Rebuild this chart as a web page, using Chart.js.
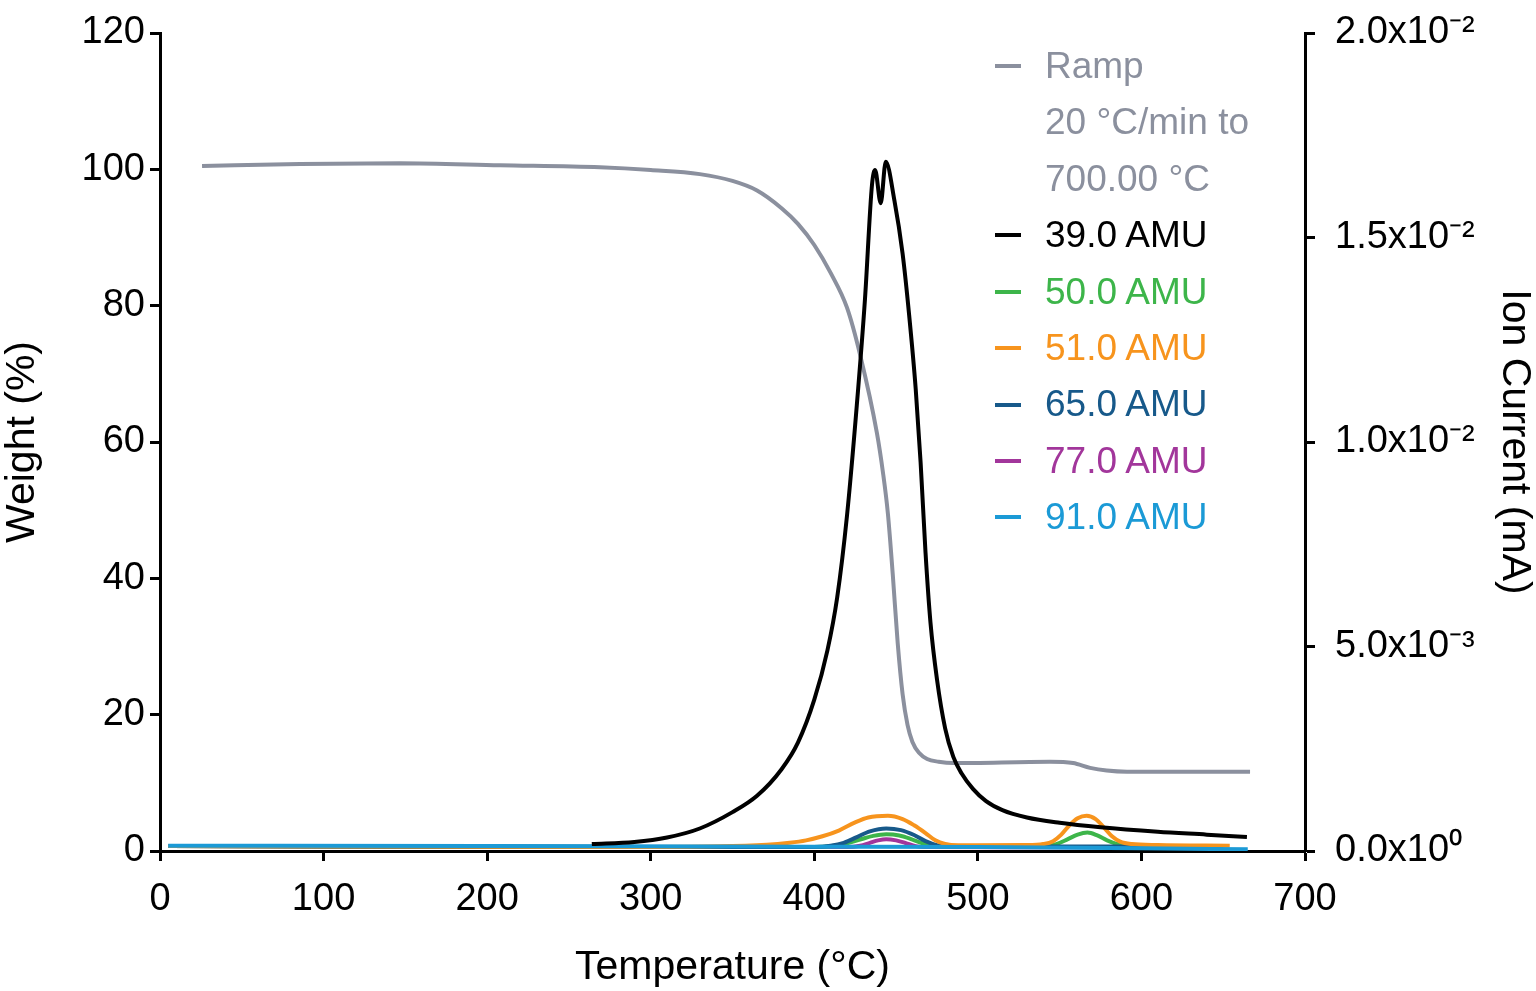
<!DOCTYPE html>
<html>
<head>
<meta charset="utf-8">
<script src="https://cdn.jsdelivr.net/npm/chart.js@4/dist/chart.umd.min.js"></script>
<style>
  html, body { margin: 0; padding: 0; background: #fff; }
  #wrap { position: relative; width: 1536px; height: 991px; }
  #legend { position: absolute; left: 995px; top: 38px; font-family: 'Liberation Sans', sans-serif; font-size: 37px; line-height: 56.4px; white-space: nowrap; }
  #legend .row { height: 56.4px; }
  #legend .sw { display: inline-block; width: 26px; height: 4px; vertical-align: middle; margin-right: 24px; position: relative; top: -2px; }
  #legend .cont { padding-left: 50px; }
</style>
</head>
<body>
<div id="wrap">
  <canvas id="c"></canvas>
  <div id="legend"></div>
</div>
<script>
// ---- Data ----
// Ramp: weight (%) vs temperature (°C), left axis
const rampT = [25.7, 85.6, 146.7, 207.9, 269, 300, 330, 350, 365, 380, 390, 400, 410, 420, 428, 438.3, 442, 445, 448, 451, 454, 457, 460, 464, 469, 476, 485, 544.1, 558.2, 568.6, 578.8, 591.2, 666.4];
const rampW = [100.5, 100.8, 100.9, 100.6, 100.3, 99.9, 99.3, 98.3, 96.9, 94.3, 92.0, 88.9, 84.8, 79.7, 72.8, 61.3, 55.5, 49.5, 40.5, 30.5, 23.0, 18.5, 16.0, 14.4, 13.5, 13.1, 12.9, 13.1, 12.9, 12.2, 11.8, 11.63, 11.63];

// Ion current (mA), right axis
const amu39T = [264, 290, 310, 330, 350, 365, 380, 390, 400, 408, 414, 420, 426, 431, 435.3, 437.2, 440.6, 443.7, 449, 454, 458, 462, 465, 468, 471, 475, 480, 485, 490, 497, 505, 515, 530, 550, 575, 610, 640, 664.5];
const amu39V = [0.00017, 0.00022, 0.00033, 0.00055, 0.00095, 0.00135, 0.0020, 0.00265, 0.0037, 0.0049, 0.0062, 0.0082, 0.0109, 0.0135, 0.0163, 0.01665, 0.01584, 0.01685, 0.0159, 0.0146, 0.0131, 0.0113, 0.0095, 0.0073, 0.0056, 0.0042, 0.0030, 0.0023, 0.0019, 0.00152, 0.00122, 0.0010, 0.00082, 0.00069, 0.00058, 0.00047, 0.00040, 0.00034];

const amu50T = [5, 300, 400, 412, 420, 428, 436, 444, 452, 460, 467, 474, 480, 540, 548, 555, 561, 567, 573, 579, 585, 592, 640];
const amu50V = [0.00012, 0.00010, 0.00010, 0.00013, 0.00019, 0.00028, 0.00037, 0.00041, 0.00038, 0.00028, 0.00018, 0.000125, 0.00011, 0.00012, 0.00017, 0.00029, 0.00040, 0.00045, 0.00038, 0.00026, 0.00017, 0.00013, 0.00012];

const amu51T = [5, 150, 300, 371, 385, 395, 405, 415, 425, 433, 445, 454, 461, 468, 474, 480, 488, 530, 540, 546, 551, 556, 561, 566.5, 572, 577, 582, 587, 594, 610, 654];
const amu51V = [0.00012, 0.00011, 0.00010, 0.00015, 0.00020, 0.00026, 0.00036, 0.00050, 0.00070, 0.00082, 0.00086, 0.00078, 0.00063, 0.00044, 0.00026, 0.00017, 0.00014, 0.000145, 0.00017, 0.00024, 0.00040, 0.00063, 0.00080, 0.00086, 0.00078, 0.00058, 0.00036, 0.00023, 0.00017, 0.000145, 0.00013];

const amu65T = [5, 300, 400, 410, 418, 426, 434, 444, 453, 461, 468, 475, 482, 520, 600, 650];
const amu65V = [0.00012, 0.00010, 0.00010, 0.00013, 0.00020, 0.00034, 0.00048, 0.00055, 0.00051, 0.00039, 0.00024, 0.00014, 0.00011, 0.00011, 0.00011, 0.00010];

const amu77T = [5, 300, 420, 428, 434, 439, 444, 450, 456, 462, 468, 520, 650];
const amu77V = [0.00012, 0.00010, 0.00010, 0.00013, 0.00020, 0.00026, 0.00029, 0.00026, 0.00019, 0.00012, 0.000095, 0.00009, 0.00009];

const amu91T = [5, 200, 400, 500, 600, 665];
const amu91V = [0.00013, 0.00012, 0.000105, 0.00010, 0.00007, 0.00004];

// Axis ticks
const xTicks = [0, 100, 200, 300, 400, 500, 600, 700];
const leftTicks = [0, 20, 40, 60, 80, 100, 120];
const rightTicks = [0, 0.005, 0.01, 0.015, 0.02];

// Series labels / colours
const seriesLabels = ['Ramp', '39.0 AMU', '50.0 AMU', '51.0 AMU', '65.0 AMU', '77.0 AMU', '91.0 AMU'];
const rampNote = ['20 °C/min to', '700.00 °C'];
const seriesColors = ['#8b909e', '#000000', '#3db54a', '#f7941d', '#17598a', '#a2369b', '#1b9ad6'];

// ---- Build ----
function pts(xs, ys) { return xs.map((x, i) => ({ x: x, y: ys[i] })); }
const SUP = { '-': '\u207B', '0': '\u2070', '1': '\u00B9', '2': '\u00B2', '3': '\u00B3', '4': '\u2074', '5': '\u2075', '6': '\u2076', '7': '\u2077', '8': '\u2078', '9': '\u2079' };
function sci(v) {
  if (Math.abs(v) < 1e-12) return '0.0x10' + SUP['0'];
  const e = Math.floor(Math.log10(v) + 1e-9);
  const m = v / Math.pow(10, e);
  return m.toFixed(1) + 'x10' + String(e).split('').map(c => SUP[c]).join('');
}

const FONT = "'Liberation Sans', sans-serif";
const common = { pointRadius: 0, borderWidth: 4, cubicInterpolationMode: 'monotone', fill: false };
const datasets = [
  Object.assign({ label: seriesLabels[1], data: pts(amu39T, amu39V), borderColor: seriesColors[1], yAxisID: 'yR', order: 0 }, common),
  Object.assign({ label: seriesLabels[6], data: pts(amu91T, amu91V), borderColor: seriesColors[6], yAxisID: 'yR', order: 1 }, common),
  Object.assign({ label: seriesLabels[3], data: pts(amu51T, amu51V), borderColor: seriesColors[3], yAxisID: 'yR', order: 2 }, common),
  Object.assign({ label: seriesLabels[4], data: pts(amu65T, amu65V), borderColor: seriesColors[4], yAxisID: 'yR', order: 3 }, common),
  Object.assign({ label: seriesLabels[2], data: pts(amu50T, amu50V), borderColor: seriesColors[2], yAxisID: 'yR', order: 4 }, common),
  Object.assign({ label: seriesLabels[5], data: pts(amu77T, amu77V), borderColor: seriesColors[5], yAxisID: 'yR', order: 5 }, common),
  Object.assign({ label: seriesLabels[0], data: pts(rampT, rampW), borderColor: seriesColors[0], yAxisID: 'yL', order: 6 }, common)
];

const tickFont = { family: FONT, size: 38 };
const titleFont = { family: FONT, size: 41 };
const axisCommon = {
  grid: { drawOnChartArea: false, drawTicks: true, tickLength: 10, tickWidth: 3, tickColor: '#000' },
  border: { display: true, color: '#000', width: 3 }
};

new Chart(document.getElementById('c'), {
  type: 'line',
  data: { datasets: datasets },
  options: {
    responsive: true,
    maintainAspectRatio: false,
    animation: false,
    layout: { padding: { top: 33, left: 0, right: 0, bottom: 0 } },
    plugins: { legend: { display: false }, tooltip: { enabled: false } },
    scales: {
      x: Object.assign({}, axisCommon, {
        type: 'linear', position: 'bottom', min: 0, max: 700,
        afterBuildTicks: s => { s.ticks = xTicks.map(v => ({ value: v })); },
        ticks: { font: tickFont, color: '#000', padding: 16, maxRotation: 0, callback: v => String(v) },
        title: { display: true, text: 'Temperature (°C)', font: titleFont, color: '#000', padding: { top: 0, bottom: -1 } },
        afterFit: s => { s.height = 140; s.paddingLeft = 0; s.paddingRight = 0; }
      }),
      yL: Object.assign({}, axisCommon, {
        type: 'linear', position: 'left', min: 0, max: 120,
        afterBuildTicks: s => { s.ticks = leftTicks.map(v => ({ value: v })); },
        ticks: { font: tickFont, color: '#000', padding: 5, callback: v => String(v) },
        title: { display: true, text: 'Weight (%)', font: titleFont, color: '#000', padding: { top: -2, bottom: 0 } },
        afterFit: s => { s.width = 160; s.paddingTop = 0; s.paddingBottom = 0; }
      }),
      yR: Object.assign({}, axisCommon, {
        type: 'linear', position: 'right', min: 0, max: 0.02,
        afterBuildTicks: s => { s.ticks = rightTicks.map(v => ({ value: v })); },
        ticks: { font: tickFont, color: '#000', padding: 20, callback: v => sci(v) },
        title: { display: true, text: 'Ion Current (mA)', font: titleFont, color: '#000', padding: { top: -3, bottom: 0 } },
        afterFit: s => { s.width = 231; s.paddingTop = 0; s.paddingBottom = 0; }
      })
    }
  }
});

// HTML legend
const lg = document.getElementById('legend');
seriesLabels.forEach((lab, i) => {
  const row = document.createElement('div');
  row.className = 'row';
  row.innerHTML = '<span class="sw" style="background:' + seriesColors[i] + '"></span><span style="color:' + seriesColors[i] + '">' + lab + '</span>';
  lg.appendChild(row);
  if (i === 0) {
    rampNote.forEach(t => {
      const r = document.createElement('div');
      r.className = 'row cont';
      r.style.color = seriesColors[0];
      r.textContent = t;
      lg.appendChild(r);
    });
  }
});
</script>
</body>
</html>
